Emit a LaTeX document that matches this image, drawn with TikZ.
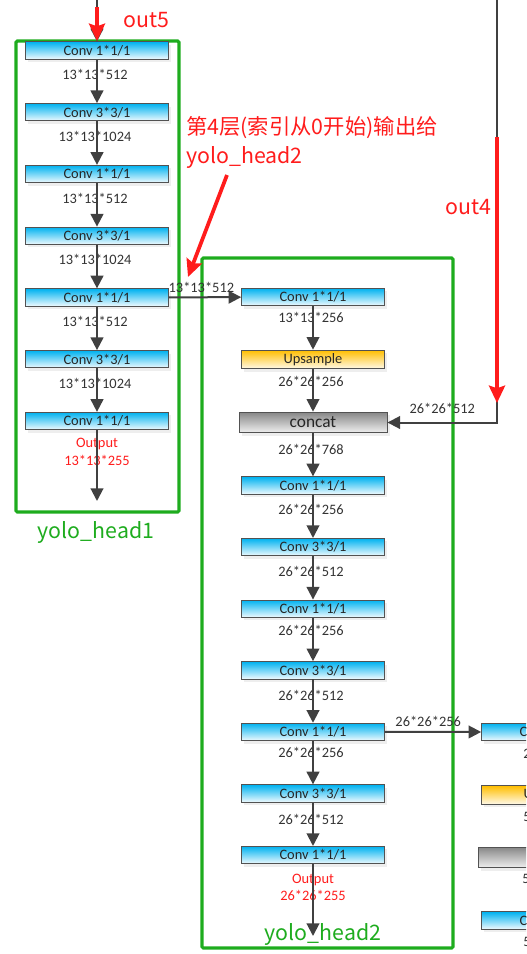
\documentclass[tikz,border=0pt]{standalone}
\usepackage{fontspec}
\setmainfont{Carlito}
\newfontfamily\cjk{Noto Sans CJK SC}
\usetikzlibrary{arrows.meta,shadows,calc,positioning}
\definecolor{convblue}{RGB}{0,178,240}
\definecolor{upsorange}{RGB}{255,190,0}
\definecolor{catgray}{RGB}{135,135,135}
\definecolor{framegreen}{RGB}{30,172,30}
\definecolor{noteRed}{RGB}{255,28,28}
\tikzset{
  layer/.style={draw=black!68, line width=0.7pt, minimum width=107pt,
    minimum height=13pt, inner sep=0pt, text=black!85,
    font=\fontsize{10.8}{11}\selectfont,
    drop shadow={shadow xshift=2pt, shadow yshift=-2.2pt, fill=black!13}},
  conv/.style={layer, top color=convblue, bottom color=convblue!6},
  upsample/.style={layer, minimum height=14pt, top color=upsorange, bottom color=upsorange!8},
  concatbox/.style={layer, minimum width=111pt, minimum height=15.5pt,
    top color=catgray, bottom color=catgray!12, font=\fontsize{13}{14}\selectfont},
  size/.style={text=black!80, inner sep=0pt, font=\fontsize{10.8}{11}\selectfont},
  outsize/.style={size, text=noteRed},
  flow/.style={draw=black!75, line width=1.5pt, -{Triangle[width=9.5pt,length=9.5pt]}},
  redarrow/.style={draw=noteRed, line width=2.8pt, -{Stealth[width=12pt,length=13pt,inset=2pt]}},
  note/.style={text=noteRed, inner sep=0pt, font=\cjk\fontsize{16}{17}\selectfont},
  headname/.style={text=framegreen, inner sep=0pt, font=\cjk\fontsize{16}{17}\selectfont},
  frame/.style={draw=framegreen, line width=2.3pt, rounded corners=1pt}
}
\begin{document}
\begin{tikzpicture}[x=0.75pt,y=-0.75pt]
\clip (0,0) rectangle (526,954);

% yolo_head1
\draw[frame] (16,41) rectangle (179,512);
\foreach \i in {1,...,7}{
  \pgfmathtruncatemacro\k{isodd(\i)?1:3}
  \node[conv] (a\i) at (97,{50.5+61.75*(\i-1)}) {Conv \k*\k/1};
}
\foreach \i/\t in {1/512,2/1024,3/512,4/1024,5/512,6/1024}
  \node[size] (sa\i) at ($(a\i.center)+(-2,24)$) {13*13*\t};
\foreach \i [evaluate=\i as \j using int(\i+1)] in {1,...,6}
  \draw[flow] (a\i) -- (a\j);
\node[outsize] (oa1) at (97,444) {Output};
\node[outsize] (oa2) at (97,460) {13*13*255};
\coordinate (enda) at (97,501);
\draw[flow] (a7) -- (enda);
\node[headname] (h1) at (96,532) {yolo\_head1};

% yolo_head2
\draw[frame] (202,258) rectangle (453,948);
\node[conv] (b1) at (313,297) {Conv 1*1/1};
\node[upsample] (b2) at (313,359.5) {Upsample};
\node[concatbox] (b3) at (313,422.5) {concat};
\foreach \i in {4,...,10}{
  \pgfmathtruncatemacro\k{isodd(\i)?3:1}
  \node[conv] (b\i) at (313,{485.5+61.6*(\i-4)}) {Conv \k*\k/1};
}
\foreach \i/\t/\d in {1/13*13*256/20,2/26*26*256/22,3/26*26*768/27,4/26*26*256/24,
  5/26*26*512/24,6/26*26*256/22,7/26*26*512/25,8/26*26*256/21,9/26*26*512/26}
  \node[size] (sb\i) at ($(b\i.center)+(-2,\d)$) {\t};
\foreach \i [evaluate=\i as \j using int(\i+1)] in {1,...,9}
  \draw[flow] (b\i) -- (b\j);
\node[outsize] (ob1) at (313,880) {Output};
\node[outsize] (ob2) at (313,895) {26*26*255};
\coordinate (endb) at (313,936);
\draw[flow] (b10) -- (endb);
\node[headname] (h2) at (323,934) {yolo\_head2};

% next head, cut off at the edge
\node[conv] (c1) at (553,732) {Conv 1*1/1};
\node[upsample] (c2) at (553,795) {Upsample};
\node[concatbox] (c3) at (552,857.5) {concat};
\node[conv] (c4) at (553,920.5) {Conv 1*1/1};
\foreach \i/\t in {1/26*26*128,2/52*52*128,3/52*52*384,4/52*52*128}
  \node[size] (sc\i) at ($(c\i.center)+(3,21)$) {\t};

% links between heads
\draw[flow] (a5) -- (b1) node[size, pos=0.45, above=3pt] (la5) {13*13*512};
\draw[flow] (b8) -- (c1) node[size, pos=0.45, above=3pt] (lb8) {26*26*256};
\coordinate (in4) at (497,0);
\draw[flow] (in4) |- (b3) node[size, pos=0.75, above=6pt] (lin4) {26*26*512};
\coordinate (in5) at (97,0);
\draw[flow] (in5) -- (a1);

% notes
\coordinate (r5a) at (97,7);
\coordinate (r5b) at (97,41);
\draw[redarrow] (r5a) -- (r5b);
\node[note, anchor=west] (out5) at (123,20) {out5};
\node[note, anchor=west] (tip1) at (186,128) {第4层(索引从0开始)输出给};
\node[note, anchor=west] (tip2) at (186,157) {yolo\_head2};
\coordinate (rda) at (227,175);
\coordinate (rdb) at (188,277);
\draw[redarrow] (rda) -- (rdb);
\node[note] (out4) at (468,207) {out4};
\coordinate (r4a) at (497,137);
\coordinate (r4b) at (497,403);
\draw[redarrow] (r4a) -- (r4b);
\end{tikzpicture}
\end{document}
